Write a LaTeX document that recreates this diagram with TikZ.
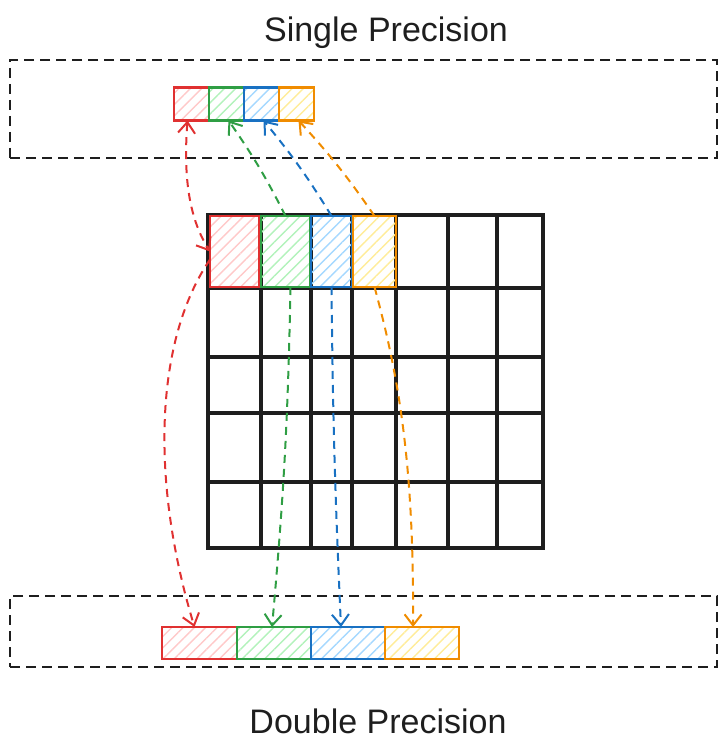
\documentclass[tikz,border=0pt]{standalone}
\usepackage{fontspec}
\setmainfont{Liberation Sans}
\usetikzlibrary{positioning,arrows.meta,patterns.meta}
\definecolor{xred}{HTML}{E03131}
\definecolor{xredL}{HTML}{FFC9C9}
\definecolor{xgreen}{HTML}{2F9E44}
\definecolor{xgreenL}{HTML}{B2F2BB}
\definecolor{xblue}{HTML}{1971C2}
\definecolor{xblueL}{HTML}{A5D8FF}
\definecolor{xorange}{HTML}{F08C00}
\definecolor{xorangeL}{HTML}{FFEC99}
\definecolor{ink}{HTML}{1E1E1E}

\begin{document}
\begin{tikzpicture}[x=1pt,y=-1pt,>={Straight Barb[length=11pt,width=17pt]},
    box/.style={draw=#1,line width=2.4pt,inner sep=0pt,outer sep=0pt,
      pattern={Lines[angle=45,distance=8pt,line width=1.4pt]},pattern color=#1L},
    link/.style={draw=#1,line width=2pt,dash pattern=on 8pt off 6pt},
    frame/.style={draw=ink,line width=1.6pt,dash pattern=on 10pt off 6pt,
      minimum width=707pt,inner sep=0pt},
    title/.style={text=ink,font=\fontsize{34}{40}\selectfont},
    gridline/.style={draw=ink,line width=3.6pt,line cap=round}]
  \useasboundingbox (0,0) rectangle (727,754);

  % frames and titles
  \node (single) [frame,minimum height=98pt] at (363.5,109) {};
  \node (double) [frame,minimum height=71pt] at (363.5,631.5) {};
  \node (stitle) [title] at (386,33) {Single Precision};
  \node (dtitle) [title] at (378,721) {Double Precision};

  % matrix
  \draw[gridline] (208,215) rectangle (543,548);
  \foreach \x in {261,311,352,396,448,497}
    \draw[gridline] (\x,215) -- (\x,548);
  \foreach \y in {288,357,413,482}
    \draw[gridline] (208,\y) -- (543,\y);

  % first row of the matrix
  \node (c1) [box=xred,minimum width=49pt,minimum height=71pt] at (234.5,251.5) {};
  \node (c2) [box=xgreen,minimum width=49pt,minimum height=71pt] at (285.5,251.5) {};
  \node (c3) [box=xblue,minimum width=41pt,minimum height=71pt] at (331.5,251.5) {};
  \node (c4) [box=xorange,minimum width=43pt,minimum height=71pt] at (374.5,251.5) {};

  % single precision
  \node (s1) [box=xred,minimum width=35pt,minimum height=33pt] at (191.5,104) {};
  \node (s2) [box=xgreen,minimum width=35pt,minimum height=33pt,right=0pt of s1] {};
  \node (s3) [box=xblue,minimum width=35pt,minimum height=33pt,right=0pt of s2] {};
  \node (s4) [box=xorange,minimum width=35pt,minimum height=33pt,right=0pt of s3] {};

  % double precision
  \node (d1) [box=xred,minimum width=75pt,minimum height=32pt] at (199.5,643) {};
  \node (d2) [box=xgreen,minimum width=74pt,minimum height=32pt,right=0pt of d1] {};
  \node (d3) [box=xblue,minimum width=74pt,minimum height=32pt,right=0pt of d2] {};
  \node (d4) [box=xorange,minimum width=74pt,minimum height=32pt,right=0pt of d3] {};

  % up
  \draw[link=xred,<->] ([xshift=-4pt]s1.south) .. controls (183,180) and (190,220) .. (c1.west);
  \draw[link=xgreen,->] (c2.north) to[bend right=4] ([xshift=2pt]s2.south);
  \draw[link=xblue,->] (c3.north) to[bend right=4] ([xshift=2pt]s3.south);
  \draw[link=xorange,->] (c4.north) to[bend right=4] ([xshift=2pt]s4.south);

  % down
  \draw[link=xred,->] ([yshift=-8pt]c1.west) .. controls (155,340) and (150,480) .. ([xshift=-5pt]d1.north);
  \draw[link=xgreen,->] ([xshift=5pt]c2.south) to[bend left=2] ([xshift=-2pt]d2.north);
  \draw[link=xblue,->] (c3.south) to[bend right=1] ([xshift=-7pt]d3.north);
  \draw[link=xorange,->] (c4.south) .. controls (400,380) and (414,470) .. ([xshift=-9pt]d4.north);
\end{tikzpicture}
\end{document}
